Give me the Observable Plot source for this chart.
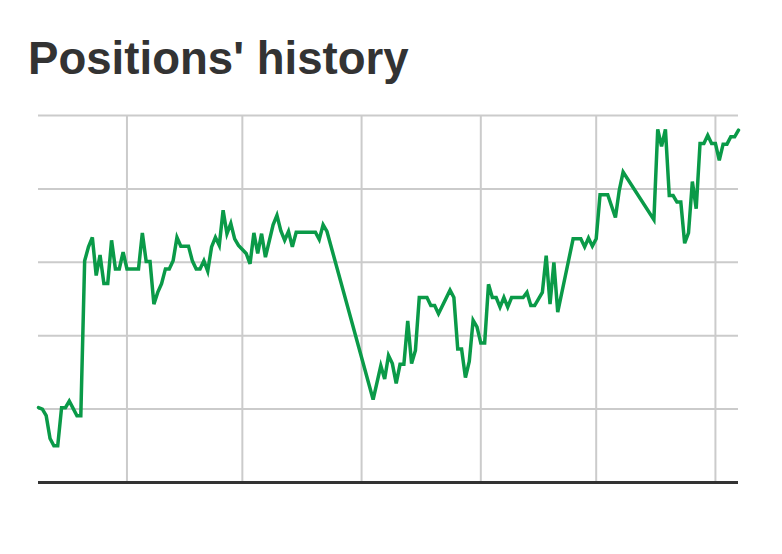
<!DOCTYPE html>
<html>
<head>
<meta charset="utf-8">
<script src="https://cdn.jsdelivr.net/npm/d3@7"></script>
<script src="https://cdn.jsdelivr.net/npm/@observablehq/plot@0.6"></script>
<style>
  html, body { margin: 0; padding: 0; background: #fff; }
  #title {
    height: 100px; box-sizing: border-box;
    padding: 36px 0 0 28px;
    font-family: "Liberation Sans", Arial, Helvetica, sans-serif;
    font-weight: bold; font-size: 45.6px; line-height: 46px;
    color: #333; white-space: nowrap;
  }
  #chart svg { display: block; }
</style>
</head>
<body>
<div id="title">Positions' history</div>
<div id="chart"></div>
<script>
// Day offsets from the first observation (2013-05-09)
const days = [0,1,2,3,4,5,6,7,8,9,10,11,12,13,14,15,16,17,18,19,20,21,22,23,26,27,28,29,30,31,32,33,34,35,36,37,39,40,41,42,43,44,45,46,47,48,49,50,51,52,54,55,56,57,58,59,61,62,63,64,65,66,67,72,73,74,75,
  87,89,90,91,92,93,94,95,96,97,98,99,101,102,103,104,107,108,109,110,111,112,113,114,115,116,117,118,119,120,121,122,123,126,127,128,129,131,132,133,134,135,137,139,141,142,143,144,145,146,148,150,151,152,160,161,162,163,164,165,166,167,168,169,170,171,172,173,174,175,176,177,178,179,180,181,182];
// Position score
const positions = [10.2,10.0,9.1,6.0,5.0,5.0,10.2,10.2,11.1,10.1,9.1,9.1,30.2,32.1,33.4,28.2,31.0,27.1,27.1,33.0,29.1,29.1,31.4,29.1,29.1,34.0,30.1,30.1,24.3,25.9,27.1,29.1,29.1,30.2,33.4,32.2,32.2,30.2,29.1,29.1,30.2,28.8,32.1,33.4,32.3,37.1,33.9,35.3,33.2,32.3,31.2,29.8,34.0,31.2,33.9,30.7,35.1,36.4,34.3,33.0,34.2,32.1,34.1,34.1,33.1,35.1,34.2,
  11.3,15.9,14.1,17.3,16.2,13.5,16.1,16.1,22.0,16.2,18.0,25.2,25.2,24.1,24.1,23.0,26.2,25.2,18.2,18.2,14.3,16.5,22.1,21.2,19.0,19.0,27.0,25.2,25.2,23.9,25.2,23.9,25.2,25.2,25.9,24.1,24.1,25.9,30.9,24.3,30.0,23.2,28.2,33.2,33.2,32.1,33.3,32.2,33.2,39.2,39.2,36.1,39.8,42.3,35.8,48.1,45.8,48.1,39.1,39.1,38.2,38.2,32.6,34.0,41.0,37.3,46.2,46.2,47.3,46.2,46.2,43.9,46.1,46.1,47.1,47.1,48.0];
// Grid ticks: month starts
const monthTicks = ["2013-06-01","2013-07-01","2013-08-01","2013-09-01","2013-10-01","2013-11-01"];
const yTicks = [10,20,30,40,50];

const start = Date.UTC(2013, 4, 9);
const data = days.map((d, i) => ({date: new Date(start + d * 864e5), value: positions[i]}));
const xTicks = monthTicks.map(s => new Date(s + "T00:00:00Z"));

const chart = Plot.plot({
  width: 782,
  height: 454,
  marginTop: 15,
  marginBottom: 72,
  marginLeft: 38,
  marginRight: 44,
  style: {background: "#fff"},
  x: {type: "utc", domain: [new Date(start), new Date(start + 182 * 864e5)], axis: null},
  y: {domain: [0, 50], axis: null},
  marks: [
    Plot.ruleY(yTicks, {stroke: "#cbcbcb", strokeWidth: 2}),
    Plot.ruleX(xTicks, {stroke: "#cbcbcb", strokeWidth: 2, y1: 0, y2: 50}),
    Plot.ruleY([0], {stroke: "#333", strokeWidth: 3}),
    Plot.line(data, {x: "date", y: "value", stroke: "#0a9a48", strokeWidth: 3.5, strokeLinejoin: "miter", strokeMiterlimit: 4})
  ]
});
document.getElementById("chart").appendChild(chart);
</script>
</body>
</html>
